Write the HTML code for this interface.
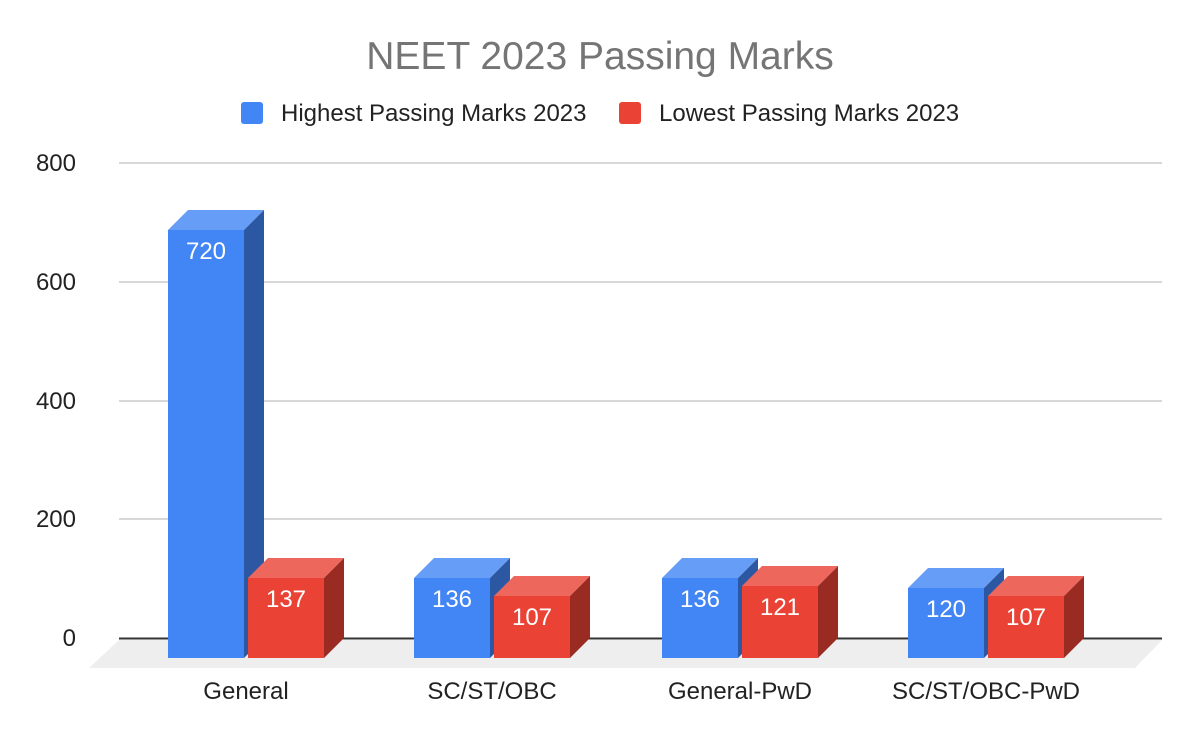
<!DOCTYPE html>
<html><head><style>body{margin:0;background:#fff}</style></head><body>
<svg width="1200" height="742" xmlns="http://www.w3.org/2000/svg" font-family="Liberation Sans, Arial, sans-serif">
<rect width="1200" height="742" fill="#fff"/>
<text x="600" y="69" text-anchor="middle" font-size="39" fill="#757575">NEET 2023 Passing Marks</text>
<rect x="241" y="102" width="22" height="22" rx="3" fill="#4285f4"/>
<text x="281" y="121" font-size="24" fill="#222">Highest Passing Marks 2023</text>
<rect x="619" y="102" width="22" height="22" rx="3" fill="#ea4335"/>
<text x="659" y="121" font-size="24" fill="#222">Lowest Passing Marks 2023</text>
<g stroke="#cccccc" stroke-width="1.5">
<line x1="119" y1="163" x2="1162" y2="163"/><line x1="119" y1="282" x2="1162" y2="282"/>
<line x1="119" y1="401" x2="1162" y2="401"/><line x1="119" y1="519" x2="1162" y2="519"/>
</g>
<g font-size="24" fill="#222" text-anchor="end">
<text x="76" y="171">800</text><text x="76" y="290">600</text><text x="76" y="409">400</text><text x="76" y="527">200</text><text x="76" y="646">0</text>
</g>
<polygon points="119,640 1162,640 1135,668 89,668" fill="#eeeeee"/>
<line x1="119" y1="638.5" x2="1162" y2="638.5" stroke="#333" stroke-width="2"/>
<g font-size="24" fill="#fff" text-anchor="middle">
<polygon points="168,230 188,210 264,210 244,230" fill="#669df6"/><polygon points="244,230 264,210 264,638 244,658" fill="#2b57a3"/><rect x="168" y="230" width="76" height="428" fill="#4285f4"/><text x="206" y="259">720</text>
<polygon points="248,578 268,558 344,558 324,578" fill="#ee675c"/><polygon points="324,578 344,558 344,638 324,658" fill="#992b23"/><rect x="248" y="578" width="76" height="80" fill="#ea4335"/><text x="286" y="607">137</text>

<polygon points="414,578 434,558 510,558 490,578" fill="#669df6"/><polygon points="490,578 510,558 510,638 490,658" fill="#2b57a3"/><rect x="414" y="578" width="76" height="80" fill="#4285f4"/><text x="452" y="607">136</text>
<polygon points="494,596 514,576 590,576 570,596" fill="#ee675c"/><polygon points="570,596 590,576 590,638 570,658" fill="#992b23"/><rect x="494" y="596" width="76" height="62" fill="#ea4335"/><text x="532" y="625">107</text>

<polygon points="662,578 682,558 758,558 738,578" fill="#669df6"/><polygon points="738,578 758,558 758,638 738,658" fill="#2b57a3"/><rect x="662" y="578" width="76" height="80" fill="#4285f4"/><text x="700" y="607">136</text>
<polygon points="742,586 762,566 838,566 818,586" fill="#ee675c"/><polygon points="818,586 838,566 838,638 818,658" fill="#992b23"/><rect x="742" y="586" width="76" height="72" fill="#ea4335"/><text x="780" y="615">121</text>

<polygon points="908,588 928,568 1004,568 984,588" fill="#669df6"/><polygon points="984,588 1004,568 1004,638 984,658" fill="#2b57a3"/><rect x="908" y="588" width="76" height="70" fill="#4285f4"/><text x="946" y="617">120</text>
<polygon points="988,596 1008,576 1084,576 1064,596" fill="#ee675c"/><polygon points="1064,596 1084,576 1084,638 1064,658" fill="#992b23"/><rect x="988" y="596" width="76" height="62" fill="#ea4335"/><text x="1026" y="625">107</text>
</g>
<g font-size="24" fill="#222" text-anchor="middle">
<text x="246" y="699">General</text><text x="492" y="699">SC/ST/OBC</text><text x="740" y="699">General-PwD</text><text x="986" y="699">SC/ST/OBC-PwD</text>
</g>
</svg>
</body></html>
